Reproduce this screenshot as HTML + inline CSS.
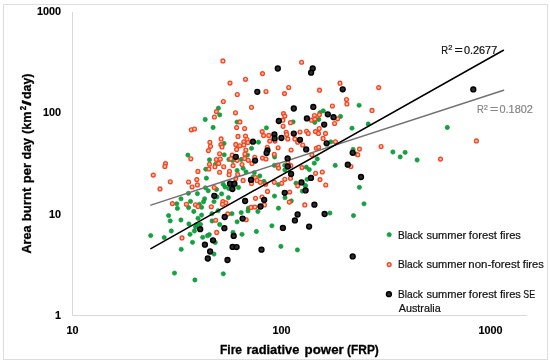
<!DOCTYPE html>
<html><head><meta charset="utf-8"><title>Area burnt per day vs fire radiative power</title>
<style>
html,body{margin:0;padding:0;background:#fff;}
body{width:550px;height:364px;overflow:hidden;}
svg{display:block;font-family:"Liberation Sans",sans-serif;}
.g{fill:#10a63e;stroke:#0a9034;stroke-width:.6;}
.o{fill:#ffcf90;stroke:#f9412b;stroke-width:1.35;}
.k{fill:#2c2c2c;stroke:#000;stroke-width:1.4;}
.tick{font-weight:700;font-size:10.8px;fill:#000;stroke:#000;stroke-width:.15;}
.leg{font-size:10.8px;fill:#111;stroke:#111;stroke-width:.2;}
.title{font-weight:700;fill:#000;stroke:#000;stroke-width:.3;}
</style></head><body>
<svg width="550" height="364" viewBox="0 0 550 364">
<rect x="0" y="0" width="550" height="364" fill="#fff"/>
<rect x="3.5" y="4.5" width="544" height="355" fill="#fff" stroke="#dedede" stroke-width="1"/>
<line x1="72.5" y1="12" x2="72.5" y2="316" stroke="#d9d9d9" stroke-width="1"/>
<line x1="72" y1="315.5" x2="527" y2="315.5" stroke="#d9d9d9" stroke-width="1"/>
<g class="tick" text-anchor="end">
<text x="61" y="15">1000</text>
<text x="61" y="116.2">100</text>
<text x="61" y="217.6">10</text>
<text x="61" y="318.6">1</text>
</g>
<g class="tick" text-anchor="middle">
<text x="72.5" y="334.2">10</text>
<text x="281.6" y="334.2">100</text>
<text x="490.6" y="334.2">1000</text>
</g>
<g class="title" font-size="12.9"><text x="220.00" y="353.5" textLength="22.05" lengthAdjust="spacingAndGlyphs">Fire</text><text x="246.60" y="353.5" textLength="52.70" lengthAdjust="spacingAndGlyphs">radiative</text><text x="304.60" y="353.5" textLength="39.10" lengthAdjust="spacingAndGlyphs">power</text><text x="347.10" y="353.5" textLength="31.70" lengthAdjust="spacingAndGlyphs">(FRP)</text></g>
<g class="title" font-size="13.7" transform="translate(30.9,253.8) rotate(-90)"><text x="0.30" y="0" textLength="27.90" lengthAdjust="spacingAndGlyphs">Area</text><text x="32.60" y="0" textLength="33.60" lengthAdjust="spacingAndGlyphs">burnt</text><text x="70.60" y="0" textLength="20.20" lengthAdjust="spacingAndGlyphs">per</text><text x="94.30" y="0" textLength="21.60" lengthAdjust="spacingAndGlyphs">day</text><text x="119.90" y="0" textLength="22.40" lengthAdjust="spacingAndGlyphs">(km</text><text x="147.80" y="0" textLength="6.00" lengthAdjust="spacingAndGlyphs">/</text><text x="154.80" y="0" textLength="25.50" lengthAdjust="spacingAndGlyphs">day)</text><text x="143.6" y="-4.9" font-size="8.6" textLength="4.3" lengthAdjust="spacingAndGlyphs">2</text></g>
<g><circle class="g" cx="218.4" cy="108.2" r="2.15"/><circle class="g" cx="219.7" cy="114.9" r="2.15"/><circle class="g" cx="323.3" cy="110.9" r="2.15"/><circle class="g" cx="320.0" cy="112.6" r="2.15"/><circle class="g" cx="359.1" cy="105.3" r="2.15"/><circle class="g" cx="340.5" cy="116.5" r="2.15"/><circle class="g" cx="368.2" cy="124.0" r="2.15"/><circle class="g" cx="352.0" cy="128.2" r="2.15"/><circle class="g" cx="353.1" cy="149.5" r="2.15"/><circle class="g" cx="392.9" cy="152.0" r="2.15"/><circle class="g" cx="405.1" cy="152.4" r="2.15"/><circle class="g" cx="400.2" cy="156.9" r="2.15"/><circle class="g" cx="417.1" cy="160.0" r="2.15"/><circle class="g" cx="356.4" cy="154.2" r="2.15"/><circle class="g" cx="447.3" cy="127.5" r="2.15"/><circle class="g" cx="205.2" cy="119.5" r="2.15"/><circle class="g" cx="213.1" cy="127.5" r="2.15"/><circle class="g" cx="237.0" cy="122.1" r="2.15"/><circle class="g" cx="224.0" cy="143.5" r="2.15"/><circle class="g" cx="187.9" cy="155.1" r="2.15"/><circle class="g" cx="224.2" cy="154.8" r="2.15"/><circle class="g" cx="209.5" cy="159.8" r="2.15"/><circle class="g" cx="215.4" cy="164.5" r="2.15"/><circle class="g" cx="205.8" cy="169.2" r="2.15"/><circle class="g" cx="206.4" cy="178.2" r="2.15"/><circle class="g" cx="228.9" cy="159.5" r="2.15"/><circle class="g" cx="232.7" cy="160.6" r="2.15"/><circle class="g" cx="237.1" cy="170.5" r="2.15"/><circle class="g" cx="223.2" cy="184.3" r="2.15"/><circle class="g" cx="225.0" cy="187.0" r="2.15"/><circle class="g" cx="266.4" cy="127.9" r="2.15"/><circle class="g" cx="258.5" cy="142.2" r="2.15"/><circle class="g" cx="251.5" cy="148.3" r="2.15"/><circle class="g" cx="293.1" cy="121.9" r="2.15"/><circle class="g" cx="247.5" cy="155.1" r="2.15"/><circle class="g" cx="241.3" cy="159.5" r="2.15"/><circle class="g" cx="243.1" cy="168.3" r="2.15"/><circle class="g" cx="246.0" cy="172.0" r="2.15"/><circle class="g" cx="254.3" cy="172.7" r="2.15"/><circle class="g" cx="259.8" cy="176.0" r="2.15"/><circle class="g" cx="274.6" cy="157.0" r="2.15"/><circle class="g" cx="274.4" cy="165.4" r="2.15"/><circle class="g" cx="284.8" cy="165.3" r="2.15"/><circle class="g" cx="284.8" cy="170.0" r="2.15"/><circle class="g" cx="253.0" cy="177.1" r="2.15"/><circle class="g" cx="264.0" cy="181.5" r="2.15"/><circle class="g" cx="278.5" cy="184.6" r="2.15"/><circle class="g" cx="296.0" cy="183.2" r="2.15"/><circle class="g" cx="318.7" cy="119.5" r="2.15"/><circle class="g" cx="314.8" cy="122.4" r="2.15"/><circle class="g" cx="330.8" cy="141.9" r="2.15"/><circle class="g" cx="317.3" cy="159.0" r="2.15"/><circle class="g" cx="314.3" cy="163.2" r="2.15"/><circle class="g" cx="306.3" cy="167.2" r="2.15"/><circle class="g" cx="309.3" cy="169.6" r="2.15"/><circle class="g" cx="335.2" cy="165.4" r="2.15"/><circle class="g" cx="307.1" cy="179.3" r="2.15"/><circle class="g" cx="305.3" cy="185.8" r="2.15"/><circle class="g" cx="359.4" cy="187.3" r="2.15"/><circle class="g" cx="188.4" cy="193.3" r="2.15"/><circle class="g" cx="197.4" cy="193.7" r="2.15"/><circle class="g" cx="181.0" cy="198.8" r="2.15"/><circle class="g" cx="190.5" cy="201.4" r="2.15"/><circle class="g" cx="176.8" cy="203.8" r="2.15"/><circle class="g" cx="177.4" cy="208.4" r="2.15"/><circle class="g" cx="188.6" cy="207.6" r="2.15"/><circle class="g" cx="193.8" cy="211.5" r="2.15"/><circle class="g" cx="168.6" cy="215.6" r="2.15"/><circle class="g" cx="170.2" cy="220.9" r="2.15"/><circle class="g" cx="180.9" cy="220.0" r="2.15"/><circle class="g" cx="198.0" cy="218.3" r="2.15"/><circle class="g" cx="199.3" cy="204.3" r="2.15"/><circle class="g" cx="188.9" cy="224.0" r="2.15"/><circle class="g" cx="205.5" cy="187.8" r="2.15"/><circle class="g" cx="208.2" cy="190.8" r="2.15"/><circle class="g" cx="216.5" cy="189.5" r="2.15"/><circle class="g" cx="238.5" cy="187.5" r="2.15"/><circle class="g" cx="228.8" cy="188.6" r="2.15"/><circle class="g" cx="221.6" cy="193.9" r="2.15"/><circle class="g" cx="228.4" cy="197.7" r="2.15"/><circle class="g" cx="217.0" cy="197.0" r="2.15"/><circle class="g" cx="204.6" cy="198.8" r="2.15"/><circle class="g" cx="203.5" cy="201.8" r="2.15"/><circle class="g" cx="214.0" cy="201.6" r="2.15"/><circle class="g" cx="201.6" cy="207.3" r="2.15"/><circle class="g" cx="218.1" cy="210.7" r="2.15"/><circle class="g" cx="211.9" cy="213.7" r="2.15"/><circle class="g" cx="201.6" cy="215.1" r="2.15"/><circle class="g" cx="231.9" cy="213.7" r="2.15"/><circle class="g" cx="241.2" cy="212.6" r="2.15"/><circle class="g" cx="248.4" cy="208.2" r="2.15"/><circle class="g" cx="248.0" cy="210.9" r="2.15"/><circle class="g" cx="257.9" cy="211.5" r="2.15"/><circle class="g" cx="212.1" cy="221.0" r="2.15"/><circle class="g" cx="237.1" cy="221.8" r="2.15"/><circle class="g" cx="219.7" cy="224.5" r="2.15"/><circle class="g" cx="302.3" cy="191.1" r="2.15"/><circle class="g" cx="274.5" cy="196.1" r="2.15"/><circle class="g" cx="285.0" cy="197.7" r="2.15"/><circle class="g" cx="291.3" cy="201.0" r="2.15"/><circle class="g" cx="278.5" cy="208.2" r="2.15"/><circle class="g" cx="305.4" cy="185.6" r="2.15"/><circle class="g" cx="364.0" cy="203.8" r="2.15"/><circle class="g" cx="329.9" cy="213.1" r="2.15"/><circle class="g" cx="353.5" cy="215.6" r="2.15"/><circle class="g" cx="195.5" cy="227.1" r="2.15"/><circle class="g" cx="196.5" cy="224.6" r="2.15"/><circle class="g" cx="171.3" cy="231.0" r="2.15"/><circle class="g" cx="150.7" cy="235.6" r="2.15"/><circle class="g" cx="164.2" cy="237.6" r="2.15"/><circle class="g" cx="190.0" cy="234.3" r="2.15"/><circle class="g" cx="194.4" cy="231.0" r="2.15"/><circle class="g" cx="192.5" cy="242.3" r="2.15"/><circle class="g" cx="181.2" cy="249.3" r="2.15"/><circle class="g" cx="200.5" cy="224.3" r="2.15"/><circle class="g" cx="233.0" cy="232.4" r="2.15"/><circle class="g" cx="242.0" cy="234.3" r="2.15"/><circle class="g" cx="256.4" cy="231.5" r="2.15"/><circle class="g" cx="209.3" cy="234.6" r="2.15"/><circle class="g" cx="207.5" cy="235.7" r="2.15"/><circle class="g" cx="202.7" cy="237.3" r="2.15"/><circle class="g" cx="215.2" cy="242.5" r="2.15"/><circle class="g" cx="214.0" cy="254.1" r="2.15"/><circle class="g" cx="271.9" cy="225.8" r="2.15"/><circle class="g" cx="280.9" cy="246.4" r="2.15"/><circle class="g" cx="297.4" cy="249.9" r="2.15"/><circle class="g" cx="174.5" cy="273.1" r="2.15"/><circle class="g" cx="194.9" cy="280.0" r="2.15"/><circle class="g" cx="223.3" cy="273.8" r="2.15"/></g>
<g><circle class="o" cx="222.9" cy="60.9" r="1.9"/><circle class="o" cx="230.0" cy="83.1" r="1.9"/><circle class="o" cx="237.3" cy="94.5" r="1.9"/><circle class="o" cx="223.3" cy="101.5" r="1.9"/><circle class="o" cx="216.4" cy="111.6" r="1.9"/><circle class="o" cx="235.5" cy="112.8" r="1.9"/><circle class="o" cx="214.4" cy="117.0" r="1.9"/><circle class="o" cx="245.5" cy="79.3" r="1.9"/><circle class="o" cx="262.5" cy="73.6" r="1.9"/><circle class="o" cx="301.6" cy="62.2" r="1.9"/><circle class="o" cx="266.0" cy="91.5" r="1.9"/><circle class="o" cx="288.7" cy="87.5" r="1.9"/><circle class="o" cx="284.5" cy="93.6" r="1.9"/><circle class="o" cx="319.5" cy="90.2" r="1.9"/><circle class="o" cx="340.0" cy="83.2" r="1.9"/><circle class="o" cx="251.5" cy="107.3" r="1.9"/><circle class="o" cx="332.4" cy="106.0" r="1.9"/><circle class="o" cx="283.5" cy="113.6" r="1.9"/><circle class="o" cx="314.4" cy="115.5" r="1.9"/><circle class="o" cx="319.3" cy="114.8" r="1.9"/><circle class="o" cx="378.7" cy="87.6" r="1.9"/><circle class="o" cx="346.5" cy="99.5" r="1.9"/><circle class="o" cx="346.9" cy="104.0" r="1.9"/><circle class="o" cx="372.0" cy="110.4" r="1.9"/><circle class="o" cx="476.4" cy="140.9" r="1.9"/><circle class="o" cx="359.5" cy="149.1" r="1.9"/><circle class="o" cx="357.8" cy="154.7" r="1.9"/><circle class="o" cx="381.1" cy="146.5" r="1.9"/><circle class="o" cx="350.9" cy="166.5" r="1.9"/><circle class="o" cx="440.5" cy="159.1" r="1.9"/><circle class="o" cx="191.3" cy="129.8" r="1.9"/><circle class="o" cx="194.5" cy="129.0" r="1.9"/><circle class="o" cx="239.9" cy="121.9" r="1.9"/><circle class="o" cx="236.6" cy="127.6" r="1.9"/><circle class="o" cx="238.0" cy="136.4" r="1.9"/><circle class="o" cx="221.1" cy="138.9" r="1.9"/><circle class="o" cx="209.9" cy="142.2" r="1.9"/><circle class="o" cx="210.5" cy="146.3" r="1.9"/><circle class="o" cx="220.9" cy="144.6" r="1.9"/><circle class="o" cx="222.0" cy="146.9" r="1.9"/><circle class="o" cx="235.8" cy="144.4" r="1.9"/><circle class="o" cx="239.8" cy="145.8" r="1.9"/><circle class="o" cx="236.6" cy="149.4" r="1.9"/><circle class="o" cx="208.4" cy="150.6" r="1.9"/><circle class="o" cx="190.8" cy="158.8" r="1.9"/><circle class="o" cx="219.6" cy="153.7" r="1.9"/><circle class="o" cx="216.3" cy="159.5" r="1.9"/><circle class="o" cx="220.3" cy="159.0" r="1.9"/><circle class="o" cx="209.5" cy="164.2" r="1.9"/><circle class="o" cx="218.7" cy="163.4" r="1.9"/><circle class="o" cx="214.9" cy="166.7" r="1.9"/><circle class="o" cx="223.7" cy="166.7" r="1.9"/><circle class="o" cx="208.9" cy="168.9" r="1.9"/><circle class="o" cx="197.9" cy="171.4" r="1.9"/><circle class="o" cx="219.6" cy="172.2" r="1.9"/><circle class="o" cx="233.1" cy="165.6" r="1.9"/><circle class="o" cx="232.2" cy="155.1" r="1.9"/><circle class="o" cx="230.8" cy="158.8" r="1.9"/><circle class="o" cx="237.1" cy="160.3" r="1.9"/><circle class="o" cx="229.5" cy="171.3" r="1.9"/><circle class="o" cx="229.1" cy="174.7" r="1.9"/><circle class="o" cx="237.7" cy="174.4" r="1.9"/><circle class="o" cx="235.8" cy="178.5" r="1.9"/><circle class="o" cx="196.8" cy="179.6" r="1.9"/><circle class="o" cx="188.6" cy="182.0" r="1.9"/><circle class="o" cx="197.4" cy="184.9" r="1.9"/><circle class="o" cx="192.1" cy="187.0" r="1.9"/><circle class="o" cx="214.2" cy="187.5" r="1.9"/><circle class="o" cx="165.5" cy="163.6" r="1.9"/><circle class="o" cx="164.9" cy="166.4" r="1.9"/><circle class="o" cx="153.3" cy="175.1" r="1.9"/><circle class="o" cx="170.3" cy="181.8" r="1.9"/><circle class="o" cx="244.6" cy="128.5" r="1.9"/><circle class="o" cx="245.5" cy="136.0" r="1.9"/><circle class="o" cx="247.1" cy="139.5" r="1.9"/><circle class="o" cx="243.8" cy="141.7" r="1.9"/><circle class="o" cx="247.9" cy="142.5" r="1.9"/><circle class="o" cx="243.8" cy="145.0" r="1.9"/><circle class="o" cx="245.8" cy="150.0" r="1.9"/><circle class="o" cx="262.2" cy="131.6" r="1.9"/><circle class="o" cx="263.6" cy="135.6" r="1.9"/><circle class="o" cx="268.8" cy="135.4" r="1.9"/><circle class="o" cx="269.7" cy="141.1" r="1.9"/><circle class="o" cx="275.0" cy="141.1" r="1.9"/><circle class="o" cx="267.3" cy="147.2" r="1.9"/><circle class="o" cx="278.1" cy="147.7" r="1.9"/><circle class="o" cx="284.8" cy="116.1" r="1.9"/><circle class="o" cx="282.9" cy="120.2" r="1.9"/><circle class="o" cx="283.1" cy="126.3" r="1.9"/><circle class="o" cx="290.5" cy="122.7" r="1.9"/><circle class="o" cx="286.2" cy="132.3" r="1.9"/><circle class="o" cx="286.7" cy="134.5" r="1.9"/><circle class="o" cx="287.8" cy="138.9" r="1.9"/><circle class="o" cx="294.9" cy="138.9" r="1.9"/><circle class="o" cx="300.0" cy="132.0" r="1.9"/><circle class="o" cx="291.1" cy="150.0" r="1.9"/><circle class="o" cx="297.7" cy="142.2" r="1.9"/><circle class="o" cx="244.9" cy="154.0" r="1.9"/><circle class="o" cx="244.6" cy="158.4" r="1.9"/><circle class="o" cx="248.2" cy="160.3" r="1.9"/><circle class="o" cx="251.9" cy="163.4" r="1.9"/><circle class="o" cx="242.0" cy="164.5" r="1.9"/><circle class="o" cx="254.8" cy="157.3" r="1.9"/><circle class="o" cx="262.5" cy="158.1" r="1.9"/><circle class="o" cx="266.0" cy="159.0" r="1.9"/><circle class="o" cx="274.3" cy="154.3" r="1.9"/><circle class="o" cx="277.9" cy="165.0" r="1.9"/><circle class="o" cx="278.5" cy="168.1" r="1.9"/><circle class="o" cx="287.8" cy="162.3" r="1.9"/><circle class="o" cx="290.8" cy="165.6" r="1.9"/><circle class="o" cx="243.1" cy="180.4" r="1.9"/><circle class="o" cx="255.4" cy="177.5" r="1.9"/><circle class="o" cx="257.0" cy="180.4" r="1.9"/><circle class="o" cx="260.3" cy="182.3" r="1.9"/><circle class="o" cx="251.5" cy="183.4" r="1.9"/><circle class="o" cx="265.7" cy="184.2" r="1.9"/><circle class="o" cx="274.3" cy="182.3" r="1.9"/><circle class="o" cx="284.8" cy="179.3" r="1.9"/><circle class="o" cx="281.7" cy="183.3" r="1.9"/><circle class="o" cx="290.5" cy="178.2" r="1.9"/><circle class="o" cx="297.7" cy="185.8" r="1.9"/><circle class="o" cx="311.5" cy="120.2" r="1.9"/><circle class="o" cx="314.8" cy="119.1" r="1.9"/><circle class="o" cx="337.6" cy="118.8" r="1.9"/><circle class="o" cx="334.6" cy="123.5" r="1.9"/><circle class="o" cx="319.2" cy="128.5" r="1.9"/><circle class="o" cx="306.6" cy="131.2" r="1.9"/><circle class="o" cx="308.2" cy="133.4" r="1.9"/><circle class="o" cx="315.4" cy="131.6" r="1.9"/><circle class="o" cx="318.5" cy="133.4" r="1.9"/><circle class="o" cx="325.5" cy="133.4" r="1.9"/><circle class="o" cx="323.1" cy="138.4" r="1.9"/><circle class="o" cx="335.4" cy="141.7" r="1.9"/><circle class="o" cx="302.7" cy="145.0" r="1.9"/><circle class="o" cx="316.3" cy="148.2" r="1.9"/><circle class="o" cx="318.7" cy="147.2" r="1.9"/><circle class="o" cx="311.9" cy="154.8" r="1.9"/><circle class="o" cx="302.0" cy="167.6" r="1.9"/><circle class="o" cx="315.6" cy="173.3" r="1.9"/><circle class="o" cx="322.3" cy="172.0" r="1.9"/><circle class="o" cx="320.0" cy="179.6" r="1.9"/><circle class="o" cx="325.7" cy="185.0" r="1.9"/><circle class="o" cx="160.0" cy="188.9" r="1.9"/><circle class="o" cx="172.4" cy="203.6" r="1.9"/><circle class="o" cx="186.4" cy="204.3" r="1.9"/><circle class="o" cx="195.5" cy="204.7" r="1.9"/><circle class="o" cx="198.0" cy="206.5" r="1.9"/><circle class="o" cx="222.9" cy="201.6" r="1.9"/><circle class="o" cx="225.8" cy="202.7" r="1.9"/><circle class="o" cx="222.5" cy="204.3" r="1.9"/><circle class="o" cx="211.3" cy="206.7" r="1.9"/><circle class="o" cx="255.5" cy="198.3" r="1.9"/><circle class="o" cx="251.1" cy="207.4" r="1.9"/><circle class="o" cx="254.9" cy="207.1" r="1.9"/><circle class="o" cx="227.7" cy="213.9" r="1.9"/><circle class="o" cx="215.7" cy="220.2" r="1.9"/><circle class="o" cx="246.2" cy="219.7" r="1.9"/><circle class="o" cx="267.5" cy="191.4" r="1.9"/><circle class="o" cx="289.7" cy="192.0" r="1.9"/><circle class="o" cx="262.0" cy="197.0" r="1.9"/><circle class="o" cx="264.4" cy="204.9" r="1.9"/><circle class="o" cx="289.3" cy="202.1" r="1.9"/><circle class="o" cx="304.8" cy="204.9" r="1.9"/><circle class="o" cx="182.0" cy="237.9" r="1.9"/><circle class="o" cx="216.7" cy="232.4" r="1.9"/></g>
<line x1="150.8" y1="205.1" x2="503.6" y2="90.3" stroke="#727272" stroke-width="1.45" stroke-linecap="round"/>
<g><circle class="k" cx="277.8" cy="68.5" r="2.45"/><circle class="k" cx="312.7" cy="68.4" r="2.45"/><circle class="k" cx="311.1" cy="72.7" r="2.45"/><circle class="k" cx="257.3" cy="91.8" r="2.45"/><circle class="k" cx="293.8" cy="108.5" r="2.45"/><circle class="k" cx="313.3" cy="106.9" r="2.45"/><circle class="k" cx="327.8" cy="114.3" r="2.45"/><circle class="k" cx="333.5" cy="117.2" r="2.45"/><circle class="k" cx="342.7" cy="89.3" r="2.45"/><circle class="k" cx="473.3" cy="89.4" r="2.45"/><circle class="k" cx="352.7" cy="152.8" r="2.45"/><circle class="k" cx="347.8" cy="164.7" r="2.45"/><circle class="k" cx="361.0" cy="177.0" r="2.45"/><circle class="k" cx="235.8" cy="156.8" r="2.45"/><circle class="k" cx="230.0" cy="183.7" r="2.45"/><circle class="k" cx="234.4" cy="183.7" r="2.45"/><circle class="k" cx="278.8" cy="121.0" r="2.45"/><circle class="k" cx="274.4" cy="134.5" r="2.45"/><circle class="k" cx="274.6" cy="138.4" r="2.45"/><circle class="k" cx="281.4" cy="138.0" r="2.45"/><circle class="k" cx="293.8" cy="133.6" r="2.45"/><circle class="k" cx="300.0" cy="139.8" r="2.45"/><circle class="k" cx="253.0" cy="141.7" r="2.45"/><circle class="k" cx="267.5" cy="150.3" r="2.45"/><circle class="k" cx="266.6" cy="153.0" r="2.45"/><circle class="k" cx="255.1" cy="160.6" r="2.45"/><circle class="k" cx="287.6" cy="158.4" r="2.45"/><circle class="k" cx="287.8" cy="166.5" r="2.45"/><circle class="k" cx="291.1" cy="174.0" r="2.45"/><circle class="k" cx="251.0" cy="179.9" r="2.45"/><circle class="k" cx="301.5" cy="182.4" r="2.45"/><circle class="k" cx="306.9" cy="118.4" r="2.45"/><circle class="k" cx="324.2" cy="124.6" r="2.45"/><circle class="k" cx="326.6" cy="143.3" r="2.45"/><circle class="k" cx="306.2" cy="149.4" r="2.45"/><circle class="k" cx="311.0" cy="177.9" r="2.45"/><circle class="k" cx="214.3" cy="195.8" r="2.45"/><circle class="k" cx="232.4" cy="189.0" r="2.45"/><circle class="k" cx="245.1" cy="201.0" r="2.45"/><circle class="k" cx="224.7" cy="217.0" r="2.45"/><circle class="k" cx="242.6" cy="218.6" r="2.45"/><circle class="k" cx="260.5" cy="206.5" r="2.45"/><circle class="k" cx="305.6" cy="190.4" r="2.45"/><circle class="k" cx="284.7" cy="192.8" r="2.45"/><circle class="k" cx="264.2" cy="199.9" r="2.45"/><circle class="k" cx="314.4" cy="204.7" r="2.45"/><circle class="k" cx="297.6" cy="214.5" r="2.45"/><circle class="k" cx="294.9" cy="220.4" r="2.45"/><circle class="k" cx="324.6" cy="214.0" r="2.45"/><circle class="k" cx="200.2" cy="229.2" r="2.45"/><circle class="k" cx="224.4" cy="228.2" r="2.45"/><circle class="k" cx="233.7" cy="235.9" r="2.45"/><circle class="k" cx="213.0" cy="240.3" r="2.45"/><circle class="k" cx="204.9" cy="244.7" r="2.45"/><circle class="k" cx="232.6" cy="246.9" r="2.45"/><circle class="k" cx="236.6" cy="247.1" r="2.45"/><circle class="k" cx="210.1" cy="251.5" r="2.45"/><circle class="k" cx="207.8" cy="258.5" r="2.45"/><circle class="k" cx="227.5" cy="260.0" r="2.45"/><circle class="k" cx="261.5" cy="249.7" r="2.45"/><circle class="k" cx="282.9" cy="227.9" r="2.45"/><circle class="k" cx="309.1" cy="226.6" r="2.45"/><circle class="k" cx="352.7" cy="256.4" r="2.45"/></g>
<line x1="150.9" y1="248.6" x2="503.4" y2="50.3" stroke="#000" stroke-width="1.55" stroke-linecap="round"/>
<g font-size="10.5" fill="#111" stroke="#111" stroke-width=".2"><text x="441.35" y="53.80" font-size="10.5" textLength="6.80" lengthAdjust="spacingAndGlyphs">R</text><text x="448.20" y="50.30" font-size="7.4" textLength="4.20" lengthAdjust="spacingAndGlyphs">2</text><text x="454.40" y="53.80" font-size="10.5" textLength="8.30" lengthAdjust="spacingAndGlyphs">=</text><text x="463.95" y="53.80" font-size="10.5" textLength="33.30" lengthAdjust="spacingAndGlyphs">0.2677</text></g>
<g font-size="10.5" fill="#858585" stroke="#858585" stroke-width=".2"><text x="476.95" y="113.30" font-size="10.5" textLength="6.80" lengthAdjust="spacingAndGlyphs">R</text><text x="483.80" y="109.80" font-size="7.4" textLength="4.20" lengthAdjust="spacingAndGlyphs">2</text><text x="490.00" y="113.30" font-size="10.5" textLength="8.30" lengthAdjust="spacingAndGlyphs">=</text><text x="499.55" y="113.30" font-size="10.5" textLength="33.30" lengthAdjust="spacingAndGlyphs">0.1802</text></g>
<circle class="g" cx="389.2" cy="234.7" r="2.15"/>
<circle class="o" cx="389.2" cy="264.6" r="1.9"/>
<circle class="k" cx="388.9" cy="294.2" r="2.45"/>
<g class="leg"><text x="398.00" y="238.7" textLength="24.80" lengthAdjust="spacingAndGlyphs">Black</text><text x="426.40" y="238.7" textLength="39.90" lengthAdjust="spacingAndGlyphs">summer</text><text x="468.80" y="238.7" textLength="28.20" lengthAdjust="spacingAndGlyphs">forest</text><text x="499.90" y="238.7" textLength="21.00" lengthAdjust="spacingAndGlyphs">fires</text><text x="398.00" y="268.1" textLength="24.80" lengthAdjust="spacingAndGlyphs">Black</text><text x="426.40" y="268.1" textLength="39.90" lengthAdjust="spacingAndGlyphs">summer</text><text x="468.30" y="268.1" textLength="51.60" lengthAdjust="spacingAndGlyphs">non-forest</text><text x="522.80" y="268.1" textLength="21.00" lengthAdjust="spacingAndGlyphs">fires</text><text x="398.00" y="297.9" textLength="24.80" lengthAdjust="spacingAndGlyphs">Black</text><text x="426.40" y="297.9" textLength="39.90" lengthAdjust="spacingAndGlyphs">summer</text><text x="468.80" y="297.9" textLength="28.20" lengthAdjust="spacingAndGlyphs">forest</text><text x="499.90" y="297.9" textLength="21.00" lengthAdjust="spacingAndGlyphs">fires</text><text x="523.30" y="297.9" textLength="11.70" lengthAdjust="spacingAndGlyphs">SE</text><text x="398.70" y="312.1" textLength="42.00" lengthAdjust="spacingAndGlyphs">Australia</text></g>
</svg>
</body></html>
